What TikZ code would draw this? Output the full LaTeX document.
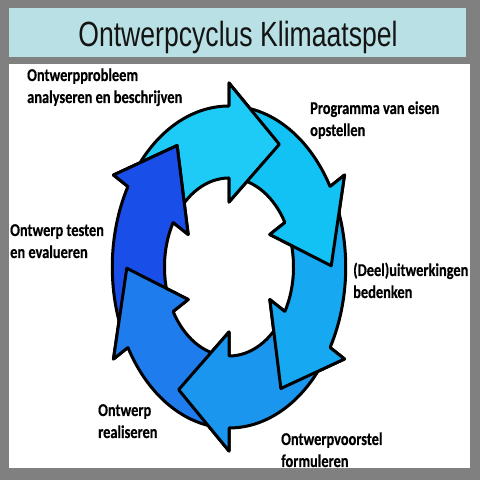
\documentclass[tikz,border=0pt]{standalone}
\usepackage{fontspec}
\newfontfamily\labfont[FakeStretch=0.8, BoldFeatures={FakeBold=0.5}]{Carlito}
\newfontfamily\titlefont[FakeStretch=0.76]{Liberation Sans}
\definecolor{framegray}{RGB}{128,128,128}
\definecolor{titlebg}{RGB}{185,224,228}
\definecolor{cA}{RGB}{30,202,246}
\definecolor{cB}{RGB}{18,194,244}
\definecolor{cC}{RGB}{22,168,240}
\definecolor{cD}{RGB}{26,150,238}
\definecolor{cE}{RGB}{30,124,236}
\definecolor{cF}{RGB}{26,78,232}
\tikzset{
  ringline/.style={draw=black, line width=3pt, line join=round},
  headline/.style={draw=black, line width=3pt, line join=round, line cap=round},
  lab/.style={font=\labfont\bfseries\fontsize{18}{22}\selectfont, inner sep=0pt, anchor=base west, text=black},
  titletext/.style={font=\titlefont\fontsize{35}{40}\selectfont, inner sep=0pt, anchor=base, text=black!92}
}
% body of one arrow: #1 = head base angle, #2 = colour
\newcommand\cycbody[2]{%
  \filldraw[fill=#2, ringline] ({#1+57}:161) arc[start angle={#1+57}, end angle={#1}, radius=161]
    -- ({#1}:184) -- ({#1-29.5}:141) -- ({#1}:65) -- ({#1}:89)
    arc[start angle={#1}, end angle={#1+57}, radius=89] -- cycle;}
% head of one arrow drawn again on top
\newcommand\cychead[2]{%
  \fill[#2] ({#1}:184) -- ({#1-29.5}:141) -- ({#1}:65) -- cycle;
  \draw[headline] ({#1}:161) -- ({#1}:184) -- ({#1-29.5}:141) -- ({#1}:65) -- ({#1}:89);}
\begin{document}
\begin{tikzpicture}[x=1pt,y=1pt]
\useasboundingbox (0,0) rectangle (480,480);
\fill[framegray] (0,0) rectangle (480,480);
\fill[titlebg] (9,423) rectangle (466,472);
\fill[white] (9,12) rectangle (470,416);
\node[titletext] (title) at (238,433) {Ontwerpcyclus Klimaatspel};

\begin{scope}[shift={(229,213)}, xscale=0.725]
  \cycbody{90}{cA}
  \cycbody{30}{cB}
  \cycbody{-30}{cC}
  \cycbody{-90}{cD}
  \cycbody{-150}{cE}
  \cycbody{150}{cF}
  \cychead{90}{cA}
  \cychead{30}{cB}
  \cychead{-30}{cC}
  \cychead{-90}{cD}
  \cychead{-150}{cE}
  \cychead{150}{cF}
\end{scope}

\node[lab] (l1) at (27,399) {\vtop{\hbox{Ontwerpprobleem}\hbox{analyseren en beschrijven}}};
\node[lab] (l2) at (310,366) {\vtop{\hbox{Programma van eisen}\hbox{opstellen}}};
\node[lab] (l3) at (353,204) {\vtop{\hbox{(Deel)uitwerkingen}\hbox{bedenken}}};
\node[lab] (l4) at (281,35) {\vtop{\hbox{Ontwerpvoorstel}\hbox{formuleren}}};
\node[lab] (l5) at (98,64) {\vtop{\hbox{Ontwerp}\hbox{realiseren}}};
\node[lab] (l6) at (10,244) {\vtop{\hbox{Ontwerp testen}\hbox{en evalueren}}};
\end{tikzpicture}
\end{document}
